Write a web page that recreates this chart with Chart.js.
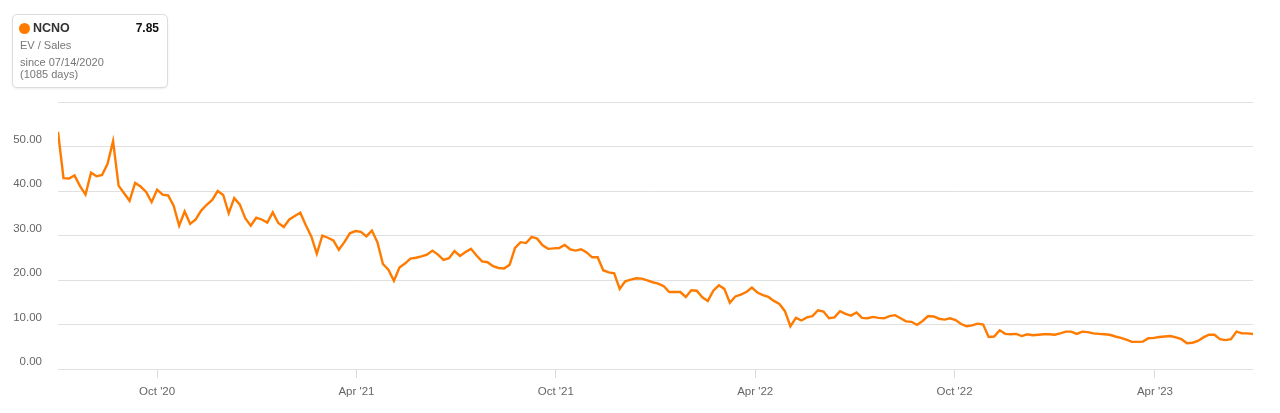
<!DOCTYPE html>
<html>
<head>
<meta charset="utf-8">
<script src="https://cdn.jsdelivr.net/npm/chart.js@4"></script>
<style>
  html, body { margin: 0; padding: 0; background: #fff; }
  #wrap { position: relative; width: 1280px; height: 413px; }
  #box {
    position: absolute; left: 12px; top: 14px; width: 156px; height: 74px;
    border: 1px solid #dcdcdc; border-radius: 5px; box-sizing: border-box;
    font-family: "Liberation Sans", Arial, sans-serif; background: #fff;
    box-shadow: 0 1px 2px rgba(0,0,0,0.08);
  }
  #dot { position: absolute; left: 6px; top: 8px; width: 11px; height: 11px; border-radius: 50%; background: #ff7b00; }
  #name { position: absolute; left: 20px; top: 6px; font-size: 12.5px; font-weight: bold; color: #333; }
  #val { position: absolute; right: 8px; top: 6px; font-size: 12px; font-weight: bold; color: #111; }
  #metric { position: absolute; left: 7px; top: 24px; font-size: 11px; color: #777; }
  #since { position: absolute; left: 7px; top: 41px; font-size: 11px; color: #777; line-height: 12px; }
</style>
</head>
<body>
<div id="wrap">
  <canvas id="c"></canvas>
  <div id="box">
    <div id="dot"></div>
    <div id="name">NCNO</div>
    <div id="val">7.85</div>
    <div id="metric">EV / Sales</div>
    <div id="since">since 07/14/2020<br>(1085 days)</div>
  </div>
</div>
<script>
// ---- data ----
const seriesName = "NCNO";
const startDate = "2020-07-14";
const stepDays = 5; // one value every 5 days from startDate
const evSales = [
  53.3, 42.9, 42.8, 43.5, 41.1, 39.2, 44.1, 43.3, 43.6, 46.1,
  51.2, 41.2, 39.5, 37.8, 41.8, 41.0, 39.8, 37.5, 40.3, 39.2,
  39.0, 36.7, 32.2, 35.4, 32.6, 33.6, 35.6, 36.9, 38.0, 40.0,
  39.1, 35.0, 38.4, 37.0, 33.9, 32.2, 34.0, 33.6, 32.9, 35.2,
  32.8, 31.9, 33.6, 34.4, 35.1, 32.3, 29.8, 25.9, 30.0, 29.5,
  28.9, 26.8, 28.5, 30.5, 31.0, 30.8, 29.8, 31.1, 28.5, 23.6,
  22.3, 19.8, 22.8, 23.7, 24.8, 25.0, 25.3, 25.7, 26.6, 25.7,
  24.5, 24.9, 26.5, 25.4, 26.3, 27.0, 25.5, 24.2, 24.0, 23.1,
  22.7, 22.6, 23.4, 27.2, 28.5, 28.3, 29.7, 29.3, 27.8, 27.0,
  27.1, 27.2, 27.9, 26.9, 26.6, 26.9, 26.2, 25.1, 25.1, 22.2,
  21.7, 21.5, 18.0, 19.7, 20.1, 20.4, 20.3, 19.9, 19.5, 19.2,
  18.6, 17.3, 17.3, 17.3, 16.2, 17.7, 17.6, 16.1, 15.3, 17.6,
  18.8, 18.0, 14.9, 16.3, 16.7, 17.3, 18.3, 17.2, 16.6, 16.2,
  15.3, 14.6, 13.0, 9.6, 11.5, 10.9, 11.6, 11.9, 13.2, 12.9,
  11.4, 11.6, 13.0, 12.4, 12.0, 12.7, 11.5, 11.4, 11.7, 11.5,
  11.4, 11.9, 12.1, 11.4, 10.7, 10.6, 9.9, 10.8, 11.9, 11.8,
  11.3, 11.1, 11.4, 11.0, 10.1, 9.6, 9.8, 10.2, 10.0, 7.2,
  7.3, 8.7, 7.9, 7.8, 7.9, 7.4, 7.8, 7.6, 7.7, 7.8,
  7.8, 7.7, 8.0, 8.4, 8.4, 7.9, 8.4, 8.3, 8.0, 7.9,
  7.8, 7.7, 7.3, 7.0, 6.6, 6.1, 6.1, 6.15, 6.9, 7.0,
  7.2, 7.3, 7.4, 7.1, 6.7, 5.8, 5.9, 6.3, 7.1, 7.7,
  7.7, 6.7, 6.5, 6.7, 8.4, 8.0, 8.0, 7.85
];
const xTickLabels = ["Oct '20", "Apr '21", "Oct '21", "Apr '22", "Oct '22", "Apr '23"];
const xTickDays = [90, 271, 452, 633, 814, 996]; // day offsets from startDate
const yTicks = [0, 10, 20, 30, 40, 50, 60];
const totalDays = 1085;

// ---- chart ----
const points = evSales.map((v, i) => ({ x: i * stepDays, y: v }));
const FONT = "'Liberation Sans', Arial, sans-serif";

new Chart(document.getElementById('c'), {
  type: 'line',
  data: {
    datasets: [{
      label: seriesName,
      data: points,
      borderColor: '#ff7b00',
      borderWidth: 2.4,
      pointRadius: 0,
      tension: 0,
      fill: false
    }]
  },
  options: {
    responsive: true,
    maintainAspectRatio: false,
    animation: false,
    layout: { padding: { top: 102, right: 27, left: 0, bottom: 0 } },
    plugins: { legend: { display: false }, tooltip: { enabled: false } },
    scales: {
      x: {
        type: 'linear',
        min: 0,
        max: totalDays,
        afterBuildTicks: (s) => { s.ticks = xTickDays.map(v => ({ value: v })); },
        afterFit: (s) => { s.height = 44; },
        grid: { drawOnChartArea: false, drawTicks: true, tickLength: 9, color: '#dcdcdc' },
        border: { display: false },
        ticks: {
          padding: 7,
          maxRotation: 0,
          autoSkip: false,
          color: '#666',
          font: { family: FONT, size: 11.5 },
          callback: (v, i) => xTickLabels[i]
        }
      },
      y: {
        min: yTicks[0],
        max: yTicks[yTicks.length - 1],
        afterBuildTicks: (s) => { s.ticks = yTicks.map(v => ({ value: v })); },
        afterFit: (s) => { s.width = 58; },
        grid: { drawTicks: false, color: '#e0e0e0' },
        border: { display: false },
        ticks: {
          padding: 16,
          labelOffset: -7,
          color: '#666',
          font: { family: FONT, size: 11.5 },
          callback: (v) => (v >= 60 ? '' : Number(v).toFixed(2))
        }
      }
    }
  }
});
</script>
</body>
</html>
